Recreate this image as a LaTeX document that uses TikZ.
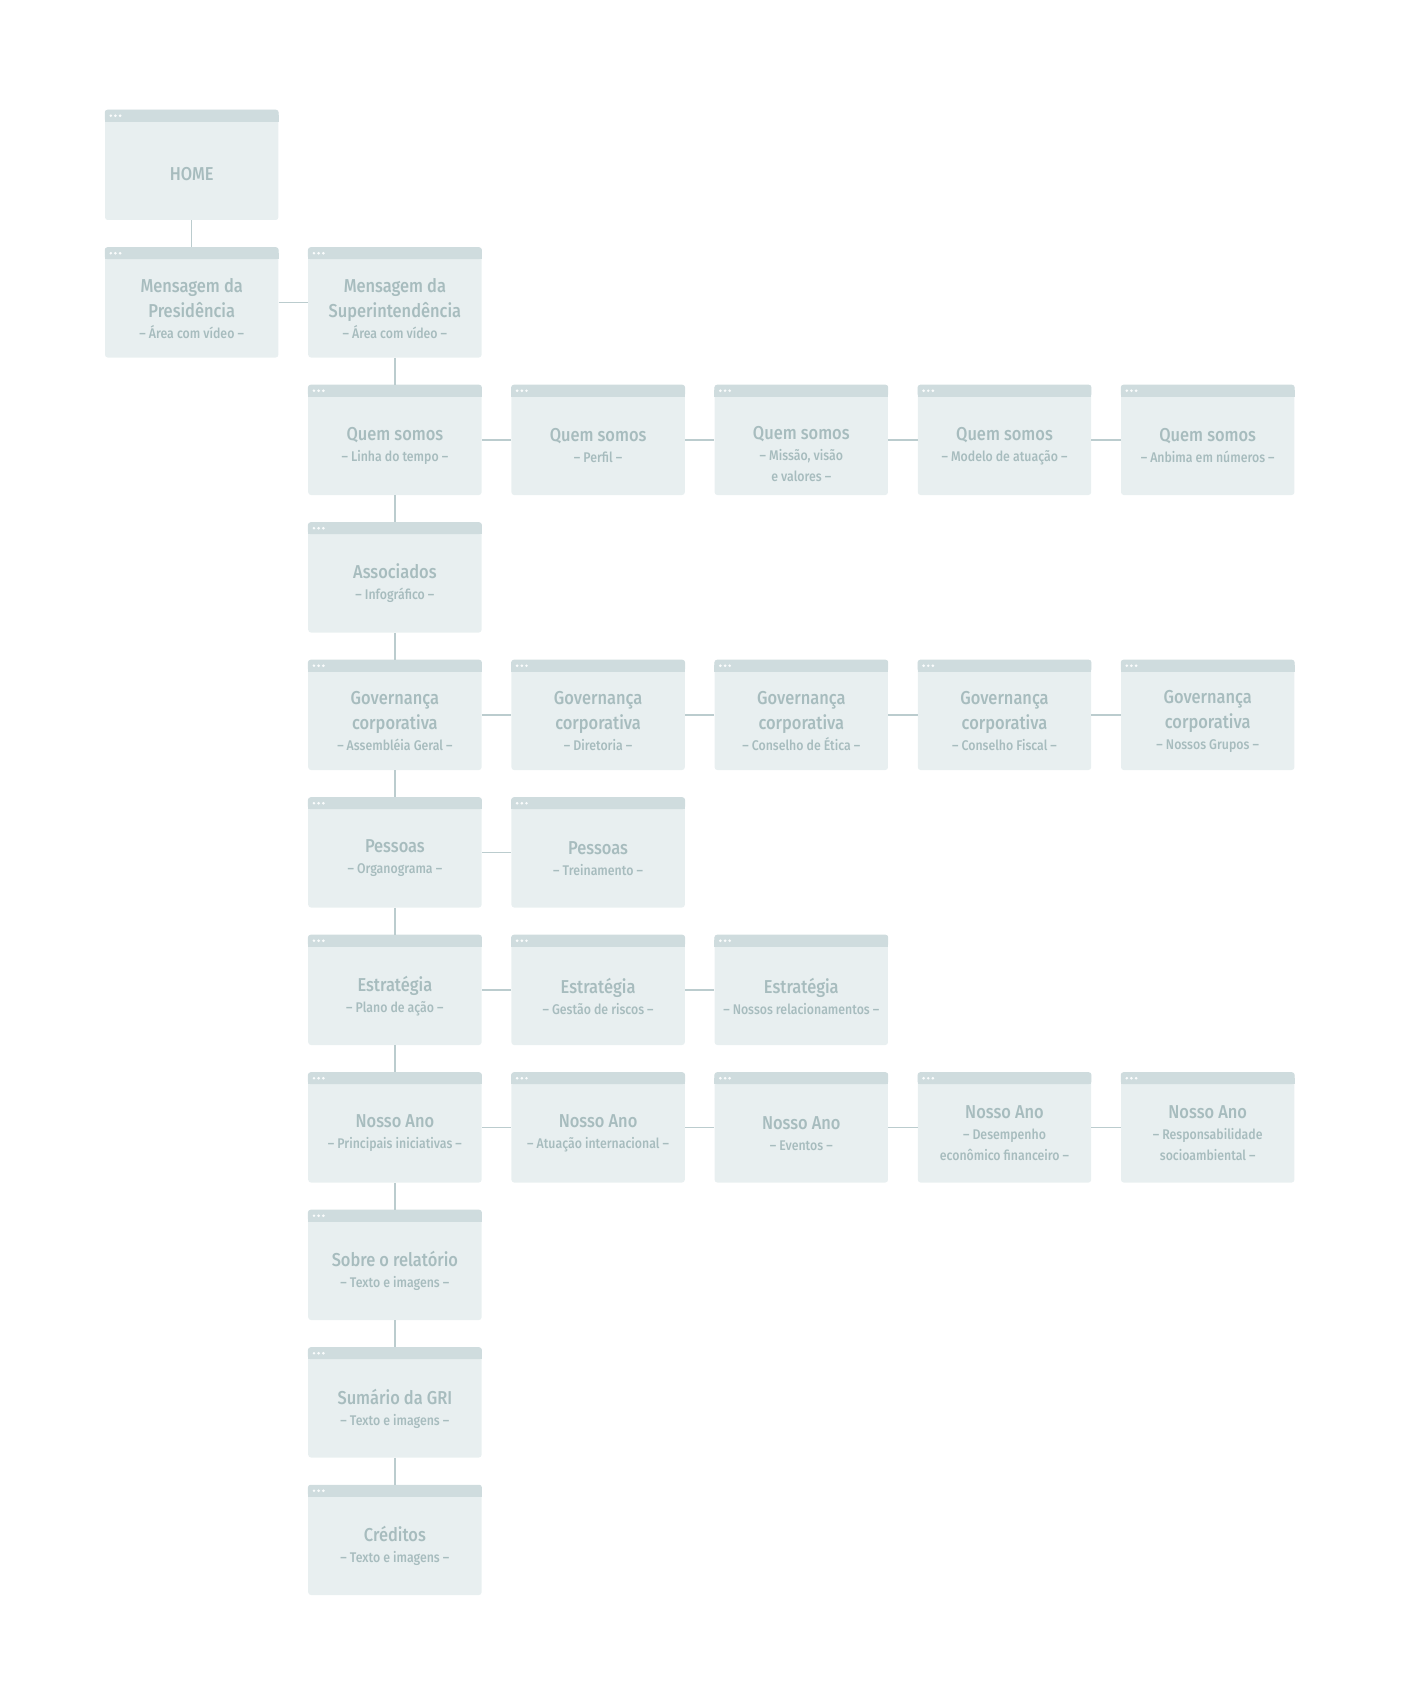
\documentclass[tikz,border=0pt]{standalone}
\usepackage{fontspec}
\newfontfamily\pagefont{Fira Sans}[FakeStretch=0.88, UprightFont=* Medium]
\usepackage{tikz}
\usetikzlibrary{calc, positioning}
\definecolor{boxfill}{HTML}{E8EFF0}
\definecolor{barfill}{HTML}{CFDCDE}
\definecolor{dotfill}{HTML}{FAFCFC}
\definecolor{txtcol}{HTML}{A7BCBE}
\definecolor{linecol}{HTML}{BBCCCE}
\newcommand\sub[1]{{\fontsize{10.5pt}{12pt}\selectfont #1}}
\newcommand\pagebox[5][0pt]{\node[page] (#2) at ({191.7+203.2*#3},{165+137.5*#4}) {};\fill[barfill, rounded corners=2pt] (#2.north west) rectangle ([yshift=-9pt]#2.north east);\fill[barfill] ([yshift=-4pt]#2.north west) rectangle ([yshift=-9pt]#2.north east);\foreach \d in {4.5,8,11.5} \fill[dotfill] ([xshift=\d pt,yshift=-4.5pt]#2.north west) circle (1.1pt);\node[pagetext] at ([yshift=-4.5pt-#1]#2.center) {#5};}

\begin{document}
\begin{tikzpicture}[x=0.75pt, y=-0.75pt,
	page/.style={fill=boxfill, rounded corners=2pt, minimum width=130pt, minimum height=82.5pt, inner sep=0pt},
	pagetext/.style={text=txtcol, align=center, inner sep=0pt, font=\pagefont\fontsize{14pt}{18.75pt}\selectfont},
	link/.style={draw=linecol, line width=1pt}]
	\useasboundingbox (0,0) rectangle (1400,1708);
	\pagebox[2pt]{home}{0}{0}{HOME}
	\pagebox{pres}{0}{1}{Mensagem da\\Presidência\\[-3pt]\sub{– Área com vídeo –}}
	\pagebox{sup}{1}{1}{Mensagem da\\Superintendência\\[-3pt]\sub{– Área com vídeo –}}
	\pagebox{quem1}{1}{2}{Quem somos\\[-3pt]\sub{– Linha do tempo –}}
	\pagebox{quem2}{2}{2}{Quem somos\\[-3pt]\sub{– Perfil –}}
	\pagebox[6pt]{quem3}{3}{2}{Quem somos\\[-3pt]\sub{– Missão, visão}\\[-3pt]\sub{e valores –}}
	\pagebox{quem4}{4}{2}{Quem somos\\[-3pt]\sub{– Modelo de atuação –}}
	\pagebox{quem5}{5}{2}{Quem somos\\[-3pt]\sub{– Anbima em números –}}
	\pagebox{assoc}{1}{3}{Associados\\[-3pt]\sub{– Infográfico –}}
	\pagebox{gov1}{1}{4}{Governança\\corporativa\\[-3pt]\sub{– Assembléia Geral –}}
	\pagebox{gov2}{2}{4}{Governança\\corporativa\\[-3pt]\sub{– Diretoria –}}
	\pagebox{gov3}{3}{4}{Governança\\corporativa\\[-3pt]\sub{– Conselho de Ética –}}
	\pagebox{gov4}{4}{4}{Governança\\corporativa\\[-3pt]\sub{– Conselho Fiscal –}}
	\pagebox{gov5}{5}{4}{Governança\\corporativa\\[-3pt]\sub{– Nossos Grupos –}}
	\pagebox{pes1}{1}{5}{Pessoas\\[-3pt]\sub{– Organograma –}}
	\pagebox{pes2}{2}{5}{Pessoas\\[-3pt]\sub{– Treinamento –}}
	\pagebox{est1}{1}{6}{Estratégia\\[-3pt]\sub{– Plano de ação –}}
	\pagebox{est2}{2}{6}{Estratégia\\[-3pt]\sub{– Gestão de riscos –}}
	\pagebox{est3}{3}{6}{Estratégia\\[-3pt]\sub{– Nossos relacionamentos –}}
	\pagebox{ano1}{1}{7}{Nosso Ano\\[-3pt]\sub{– Principais iniciativas –}}
	\pagebox{ano2}{2}{7}{Nosso Ano\\[-3pt]\sub{– Atuação internacional –}}
	\pagebox{ano3}{3}{7}{Nosso Ano\\[-3pt]\sub{– Eventos –}}
	\pagebox{ano4}{4}{7}{Nosso Ano\\[-3pt]\sub{– Desempenho}\\[-3pt]\sub{econômico financeiro –}}
	\pagebox{ano5}{5}{7}{Nosso Ano\\[-3pt]\sub{– Responsabilidade}\\[-3pt]\sub{socioambiental –}}
	\pagebox{sobre}{1}{8}{Sobre o relatório\\[-3pt]\sub{– Texto e imagens –}}
	\pagebox{sumario}{1}{9}{Sumário da GRI\\[-3pt]\sub{– Texto e imagens –}}
	\pagebox{creditos}{1}{10}{Créditos\\[-3pt]\sub{– Texto e imagens –}}
	% tree links
	\draw[link] (home) -- (pres);
	\draw[link] (pres) -- (sup);
	\foreach \a/\b in {sup/quem1, quem1/assoc, assoc/gov1, gov1/pes1, pes1/est1, est1/ano1, ano1/sobre, sobre/sumario, sumario/creditos}
		\draw[link] (\a) -- (\b);
	\foreach \a/\b in {quem1/quem2, quem2/quem3, quem3/quem4, quem4/quem5, gov1/gov2, gov2/gov3, gov3/gov4, gov4/gov5, pes1/pes2, est1/est2, est2/est3, ano1/ano2, ano2/ano3, ano3/ano4, ano4/ano5}
		\draw[link] (\a) -- (\b);
\end{tikzpicture}
\end{document}
